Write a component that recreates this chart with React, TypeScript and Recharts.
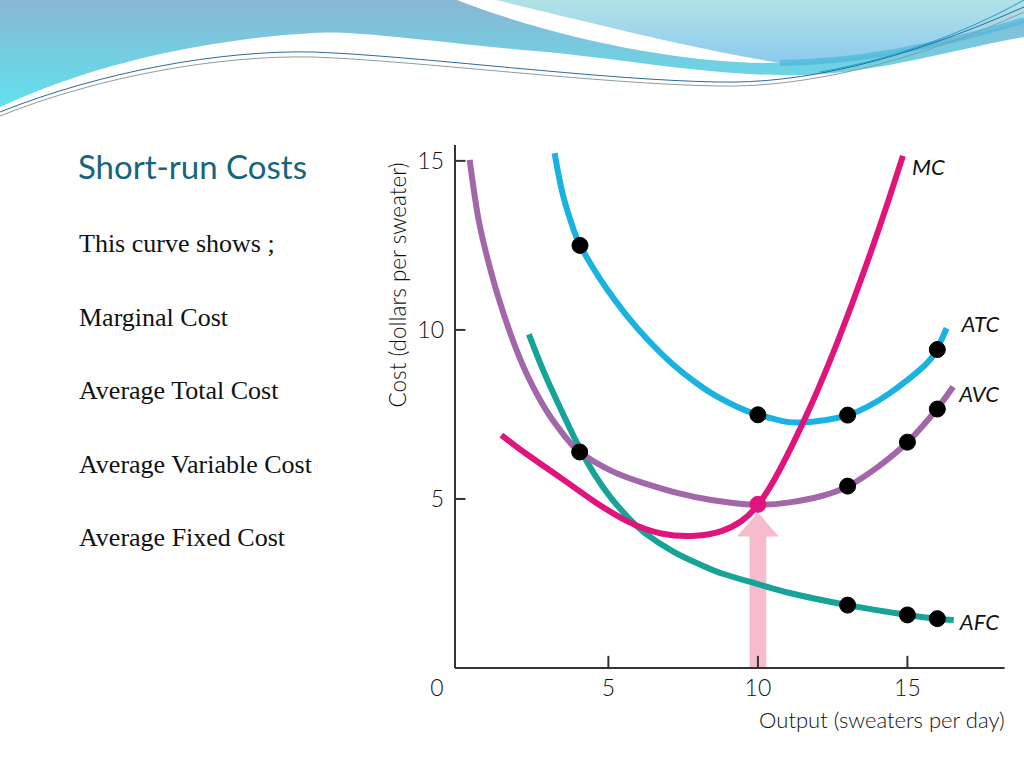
import {
  ComposedChart,
  Label,
  Line,
  ReferenceArea,
  ReferenceLine,
  XAxis,
  YAxis,
} from "recharts";

type Point = { x: number; y: number };

const xTicks = [0, 5, 10, 15];
const yTicks = [5, 10, 15];

const mcCurve: Point[] = [
  { x: 1.42, y: 6.89 },
  { x: 2.31, y: 6.3 },
  { x: 3.43, y: 5.61 },
  { x: 4.54, y: 4.92 },
  { x: 5.66, y: 4.33 },
  { x: 6.77, y: 3.98 },
  { x: 7.89, y: 3.91 },
  { x: 8.78, y: 4.05 },
  { x: 9.45, y: 4.35 },
  { x: 10, y: 4.82 },
  { x: 10.56, y: 5.59 },
  { x: 11.17, y: 6.63 },
  { x: 11.84, y: 7.9 },
  { x: 12.51, y: 9.31 },
  { x: 13.18, y: 10.85 },
  { x: 13.85, y: 12.49 },
  { x: 14.41, y: 13.95 },
  { x: 14.85, y: 15.15 },
];

const atcCurve: Point[] = [
  { x: 3.2, y: 15.23 },
  { x: 3.48, y: 13.99 },
  { x: 3.82, y: 13.01 },
  { x: 4.06, y: 12.49 },
  { x: 4.49, y: 11.83 },
  { x: 4.93, y: 11.23 },
  { x: 5.6, y: 10.44 },
  { x: 6.38, y: 9.65 },
  { x: 7.16, y: 8.98 },
  { x: 7.94, y: 8.43 },
  { x: 8.61, y: 8.04 },
  { x: 9.3, y: 7.73 },
  { x: 10, y: 7.49 },
  { x: 10.7, y: 7.33 },
  { x: 11.4, y: 7.26 },
  { x: 13, y: 7.48 },
  { x: 14.41, y: 8.13 },
  { x: 15.53, y: 8.91 },
  { x: 15.98, y: 9.41 },
  { x: 16.31, y: 10.05 },
];

const avcCurve: Point[] = [
  { x: 0.36, y: 15.03 },
  { x: 0.64, y: 13.35 },
  { x: 0.97, y: 12.07 },
  { x: 1.31, y: 10.99 },
  { x: 1.76, y: 9.8 },
  { x: 2.31, y: 8.62 },
  { x: 2.98, y: 7.54 },
  { x: 3.54, y: 6.86 },
  { x: 4.04, y: 6.39 },
  { x: 5.1, y: 5.83 },
  { x: 6.21, y: 5.46 },
  { x: 7.33, y: 5.17 },
  { x: 8.44, y: 4.97 },
  { x: 9.89, y: 4.83 },
  { x: 11.07, y: 4.9 },
  { x: 12.1, y: 5.08 },
  { x: 13.02, y: 5.38 },
  { x: 13.97, y: 5.92 },
  { x: 15, y: 6.68 },
  { x: 15.98, y: 7.66 },
  { x: 16.53, y: 8.32 },
];

const afcCurve: Point[] = [
  { x: 2.34, y: 9.87 },
  { x: 2.76, y: 8.93 },
  { x: 3.2, y: 8.05 },
  { x: 3.65, y: 7.2 },
  { x: 4.04, y: 6.5 },
  { x: 4.54, y: 5.72 },
  { x: 5.1, y: 5.02 },
  { x: 5.66, y: 4.45 },
  { x: 6.21, y: 4.0 },
  { x: 7.2, y: 3.43 },
  { x: 8.1, y: 3.05 },
  { x: 8.85, y: 2.78 },
  { x: 10, y: 2.48 },
  { x: 11.1, y: 2.21 },
  { x: 13, y: 1.86 },
  { x: 15, y: 1.57 },
  { x: 16, y: 1.46 },
  { x: 16.55, y: 1.42 },
];

const atcDots: Point[] = [
  { x: 4.05, y: 12.5 },
  { x: 10, y: 7.49 },
  { x: 13, y: 7.48 },
  { x: 16, y: 9.42 },
];
const avcDots: Point[] = [
  { x: 4.04, y: 6.39 },
  { x: 13, y: 5.38 },
  { x: 15, y: 6.68 },
  { x: 16, y: 7.66 },
];
const afcDots: Point[] = [
  { x: 13, y: 1.86 },
  { x: 15, y: 1.57 },
  { x: 16, y: 1.46 },
];
const meetPoint: Point[] = [{ x: 10, y: 4.84 }];

// arrow under the MC = AVC minimum
const arrowX = [9.3, 10.7];
const arrowY = [0, 4.6];

const sideNotes = [
  "This curve shows ;",
  "Marginal Cost",
  "Average Total Cost",
  "Average Variable Cost",
  "Average Fixed Cost",
];

const X_DOMAIN: [number, number] = [-0.13, 18.25];
const Y_DOMAIN: [number, number] = [0, 15.47];

const MC = "#e0147c";
const ATC = "#19b2e3";
const AVC = "#a267a8";
const AFC = "#16a398";
const ARROW = "#f6bccb";
const AXIS = "#333333";
const SANS = "Lato, 'Open Sans', sans-serif";

function XTick({ x, y, payload }: any) {
  const shift = payload.value === 0 ? -22 : 0;
  return (
    <text
      x={x + shift}
      y={y}
      dy="0.71em"
      textAnchor="middle"
      fontSize={23}
      fontFamily={SANS}
      fontWeight={300}
      fill="#111"
    >
      {payload.value}
    </text>
  );
}

function YTick({ x, y, payload }: any) {
  return (
    <text
      x={x}
      y={y}
      dy="0.35em"
      textAnchor="end"
      fontSize={23}
      fontFamily={SANS}
      fontWeight={300}
      fill="#111"
    >
      {payload.value}
    </text>
  );
}

function XTitle({ viewBox }: any) {
  return (
    <text
      x={viewBox.x + viewBox.width}
      y={viewBox.y + 60}
      textAnchor="end"
      fontSize={22}
      fontFamily={SANS}
      fontWeight={300}
      fill="#111"
    >
      Output (sweaters per day)
    </text>
  );
}

function YTitle({ viewBox }: any) {
  const cx = viewBox.x + 14;
  const cy = viewBox.y + 140;
  return (
    <text
      x={cx}
      y={cy}
      transform={`rotate(-90, ${cx}, ${cy})`}
      textAnchor="middle"
      dominantBaseline="central"
      fontSize={22.5}
      fontFamily={SANS}
      fontWeight={300}
      fill="#111"
    >
      Cost (dollars per sweater)
    </text>
  );
}

function curveTag(text: string, count: number, dx: number, dy: number) {
  return (props: any) =>
    props.index === count - 1 ? (
      <text
        x={props.x + dx}
        y={props.y + dy}
        fontSize={22}
        fontStyle="italic"
        fontFamily={SANS}
        fill="#111"
      >
        {text}
      </text>
    ) : null;
}

function ArrowShape({ x, y, width, height }: any) {
  const cx = x + width / 2;
  const half = (width * 0.4) / 2;
  const head = 24;
  const d = [
    `M${cx - half},${y + height}`,
    `L${cx - half},${y + head}`,
    `L${x},${y + head}`,
    `L${cx},${y}`,
    `L${x + width},${y + head}`,
    `L${cx + half},${y + head}`,
    `L${cx + half},${y + height}`,
    "Z",
  ].join(" ");
  return <path d={d} fill={ARROW} />;
}

function Header() {
  return (
    <svg
      width={1024}
      height={130}
      style={{ position: "absolute", left: 0, top: 0 }}
    >
      <defs>
        <linearGradient id="bandA" x1="0" y1="0" x2="0" y2="1">
          <stop offset="0" stopColor="#8ab6d3" />
          <stop offset="1" stopColor="#5fe2ee" />
        </linearGradient>
        <linearGradient id="bandB" x1="0" y1="0" x2="0" y2="1">
          <stop offset="0" stopColor="#b2e2e6" />
          <stop offset="1" stopColor="#8ccaee" />
        </linearGradient>
      </defs>
      <path
        d="M0,0 L457,0 C560,40 680,62 764,63 C870,62 960,40 1024,20 L1024,37 C950,50 860,78 784,75 C700,75 600,55 522,50 C420,40 350,30 313,33 C220,38 100,60 0,107 Z"
        fill="url(#bandA)"
      />
      <path
        d="M496,0 L1024,0 L1024,20 C960,40 870,62 780,63 C700,50 600,25 496,0 Z"
        fill="url(#bandB)"
      />
      <path
        d="M780,63 C870,62 960,40 1024,20"
        fill="none"
        stroke="#4cb6da"
        strokeWidth={6}
        opacity={0.7}
      />
      <path
        d="M0,112 C100,72 220,50 313,52 C420,56 600,80 718,82 C800,84 900,62 1024,7"
        fill="none"
        stroke="#2c6c9c"
        strokeWidth={1}
      />
      <path
        d="M0,116 C100,76 220,55 313,57 C420,61 600,84 718,86 C800,88 910,64 1024,12"
        fill="none"
        stroke="#8c9ca4"
        strokeWidth={1}
      />
      <path
        d="M820,72 C900,58 970,30 1024,0"
        fill="none"
        stroke="#2a9cc0"
        strokeWidth={1}
      />
    </svg>
  );
}

export default function App() {
  return (
    <div
      style={{
        position: "absolute",
        left: 0,
        top: 0,
        width: 1024,
        height: 768,
        background: "#ffffff",
        overflow: "hidden",
      }}
    >
      <Header />
      <div
        style={{
          position: "absolute",
          left: 78,
          top: 146,
          fontFamily: SANS,
          fontSize: 33,
          color: "#17657d",
          lineHeight: "40px",
        }}
      >
        Short-run Costs
      </div>
      {sideNotes.map((note, i) => (
        <div
          key={note}
          style={{
            position: "absolute",
            left: 79,
            top: 229 + i * 73.5,
            fontFamily: "'Liberation Serif', serif",
            fontSize: 26,
            lineHeight: "30px",
            color: "#111",
            whiteSpace: "nowrap",
          }}
        >
          {note}
        </div>
      ))}
      <div style={{ position: "absolute", left: 383, top: 140 }}>
        <ComposedChart
          width={630}
          height={600}
          margin={{ top: 5, right: 8.4, bottom: 0, left: 0 }}
        >
          <XAxis
            type="number"
            dataKey="x"
            domain={X_DOMAIN}
            allowDataOverflow
            ticks={xTicks}
            tick={<XTick />}
            tickLine={false}
            tickSize={0}
            tickMargin={12}
            height={72}
            axisLine={{ stroke: AXIS, strokeWidth: 2 }}
          >
            <Label content={XTitle} />
          </XAxis>
          <YAxis
            type="number"
            dataKey="y"
            domain={Y_DOMAIN}
            allowDataOverflow
            ticks={yTicks}
            tick={<YTick />}
            tickLine={false}
            tickSize={0}
            tickMargin={11}
            width={72}
            axisLine={{ stroke: AXIS, strokeWidth: 2 }}
          >
            <Label content={YTitle} />
          </YAxis>
          <ReferenceArea
            x1={arrowX[0]}
            x2={arrowX[1]}
            y1={arrowY[0]}
            y2={arrowY[1]}
            shape={<ArrowShape />}
          />
          {yTicks.map((v) => (
            <ReferenceLine
              key={`yt${v}`}
              segment={[
                { x: X_DOMAIN[0], y: v },
                { x: 0.22, y: v },
              ]}
              stroke={AXIS}
              strokeWidth={2}
            />
          ))}
          {xTicks
            .filter((v) => v > 0)
            .map((v) => (
              <ReferenceLine
                key={`xt${v}`}
                segment={[
                  { x: v, y: 0 },
                  { x: v, y: 0.36 },
                ]}
                stroke={AXIS}
                strokeWidth={2}
              />
            ))}
          <Line
            data={afcCurve}
            dataKey="y"
            type="natural"
            stroke={AFC}
            strokeWidth={6}
            dot={false}
            activeDot={false}
            isAnimationActive={false}
            label={curveTag("AFC", afcCurve.length, 6, 10)}
          />
          <Line
            data={avcCurve}
            dataKey="y"
            type="natural"
            stroke={AVC}
            strokeWidth={6}
            dot={false}
            activeDot={false}
            isAnimationActive={false}
            label={curveTag("AVC", avcCurve.length, 6, 15)}
          />
          <Line
            data={atcCurve}
            dataKey="y"
            type="natural"
            stroke={ATC}
            strokeWidth={6}
            dot={false}
            activeDot={false}
            isAnimationActive={false}
            label={curveTag("ATC", atcCurve.length, 15, 4)}
          />
          <Line
            data={mcCurve}
            dataKey="y"
            type="natural"
            stroke={MC}
            strokeWidth={6}
            dot={false}
            activeDot={false}
            isAnimationActive={false}
            label={curveTag("MC", mcCurve.length, 9, 19)}
          />
          {[atcDots, avcDots, afcDots].map((pts, i) => (
            <Line
              key={`dots${i}`}
              data={pts}
              dataKey="y"
              stroke="none"
              strokeWidth={0}
              dot={{ r: 8, fill: "#000", stroke: "#000", strokeWidth: 1 }}
              activeDot={false}
              isAnimationActive={false}
            />
          ))}
          <Line
            data={meetPoint}
            dataKey="y"
            stroke="none"
            strokeWidth={0}
            dot={{ r: 8, fill: MC, stroke: MC, strokeWidth: 1 }}
            activeDot={false}
            isAnimationActive={false}
          />
        </ComposedChart>
      </div>
    </div>
  );
}
